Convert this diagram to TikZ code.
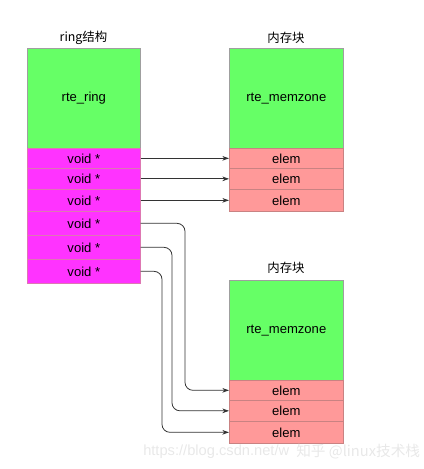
\documentclass[tikz,border=0pt]{standalone}
\usepackage{fontspec}
\setmainfont{Liberation Sans}
\newfontfamily\cjk{Noto Sans CJK SC}
\usetikzlibrary{arrows.meta}
\definecolor{cgreen}{HTML}{66FF66}
\definecolor{cmag}{HTML}{FF33FF}
\definecolor{cpink}{HTML}{FF9999}
\definecolor{cline}{HTML}{333333}
\begin{document}
\begin{tikzpicture}[x=0.75pt,y=-0.75pt,
  cell/.style={draw=gray!75,line width=0.5pt,inner sep=0pt,anchor=north west,font=\fontsize{9.8}{11}\selectfont},
  gcell/.style={cell,fill=cgreen},
  mcell/.style={cell,fill=cmag,draw=magenta!80!black!60},
  pcell/.style={cell,fill=cpink,draw=red!40!gray!70},
  ttl/.style={font=\cjk\fontsize{9.3}{11}\selectfont,inner sep=0pt},
  conn/.style={draw=cline,line width=0.6pt,-{Stealth[length=5pt,width=3.5pt]}},
  wm/.style={text=gray!18,font=\fontsize{11}{12}\selectfont,inner sep=0pt,anchor=west}]
\useasboundingbox (0,0) rectangle (424,469);
% left column
\node[ttl] (t1) at (83.5,38) {ring结构};
\node[gcell,minimum width=113*0.75pt,minimum height=100*0.75pt] (ring) at (27,48) {rte\_ring};
\node[mcell,minimum width=113*0.75pt,minimum height=20*0.75pt] (v1) at (27,148) {void *};
\node[mcell,minimum width=113*0.75pt,minimum height=21*0.75pt] (v2) at (27,168) {void *};
\node[mcell,minimum width=113*0.75pt,minimum height=22*0.75pt] (v3) at (27,189) {void *};
\node[mcell,minimum width=113*0.75pt,minimum height=24*0.75pt] (v4) at (27,211) {void *};
\node[mcell,minimum width=113*0.75pt,minimum height=24*0.75pt] (v5) at (27,235) {void *};
\node[mcell,minimum width=113*0.75pt,minimum height=24*0.75pt] (v6) at (27,259) {void *};
% top right block
\node[ttl] (t2) at (286,38) {内存块};
\node[gcell,minimum width=114*0.75pt,minimum height=100*0.75pt] (m1) at (229,48) {rte\_memzone};
\node[pcell,minimum width=114*0.75pt,minimum height=20*0.75pt] (e1) at (229,148) {elem};
\node[pcell,minimum width=114*0.75pt,minimum height=21*0.75pt] (e2) at (229,168) {elem};
\node[pcell,minimum width=114*0.75pt,minimum height=22*0.75pt] (e3) at (229,189) {elem};
% bottom right block
\node[ttl] (t3) at (286,268) {内存块};
\node[gcell,minimum width=114*0.75pt,minimum height=100*0.75pt] (m2) at (229,280) {rte\_memzone};
\node[pcell,minimum width=114*0.75pt,minimum height=20*0.75pt] (e4) at (229,380) {elem};
\node[pcell,minimum width=114*0.75pt,minimum height=21*0.75pt] (e5) at (229,400) {elem};
\node[pcell,minimum width=114*0.75pt,minimum height=22*0.75pt] (e6) at (229,421) {elem};
% connectors
\draw[conn] (v1.east) -- (e1.west);
\draw[conn] (v2.east) -- (e2.west);
\draw[conn] (v3.east) -- (e3.west);
\coordinate (k4) at (185,0);
\coordinate (k5) at (172,0);
\coordinate (k6) at (162,0);
\draw[conn,rounded corners=6pt] (v4.east) -| (k4 |- e4.west) -- (e4.west);
\draw[conn,rounded corners=6pt] (v5.east) -| (k5 |- e5.west) -- (e5.west);
\draw[conn,rounded corners=6pt] (v6.east) -| (k6 |- e6.west) -- (e6.west);
% watermark
\node[wm] (w1) at (143,452) {https://blog.csdn.net/w};
\node[wm,font=\cjk\fontsize{11}{12}\selectfont] (w2) at (296,452) {知乎 @linux技术栈};
\end{tikzpicture}
\end{document}
